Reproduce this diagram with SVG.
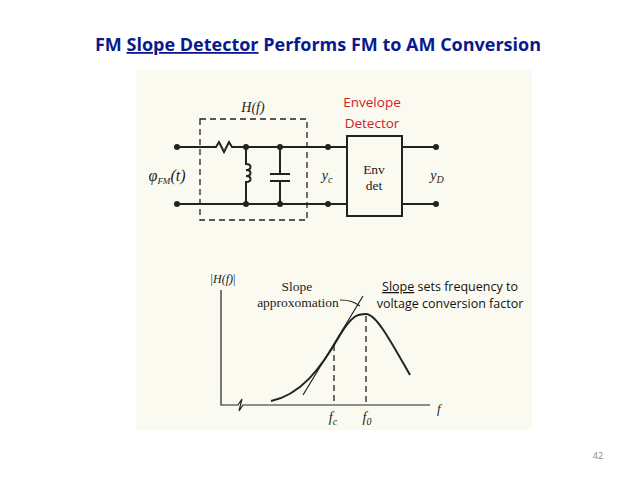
<svg xmlns="http://www.w3.org/2000/svg" width="638" height="478" viewBox="0 0 638 478">
<style>
.w{stroke:#222;stroke-width:2;fill:none}
.t{stroke:#222;stroke-width:1.2;fill:none}
.d{stroke:#222;stroke-width:1.3;fill:none;stroke-dasharray:6,4}
.s{font-family:"Liberation Serif",serif;fill:#222}
.c{font-family:"Open Sans","Liberation Sans",sans-serif}
</style>
<rect width="638" height="478" fill="#fff"/>
<rect x="136" y="70" width="396" height="360" fill="#fbfaf0"/>
<text x="318" y="51" text-anchor="middle" class="c" font-size="18" font-weight="bold" fill="#0a1a8c">FM <tspan text-decoration="underline">Slope Detector</tspan>  Performs FM to AM Conversion</text>
<g id="filter">
<rect x="200" y="119" width="107" height="101" class="d"/>
<text x="253" y="112" class="s" font-size="14" font-style="italic" text-anchor="middle">H(f)</text>
<path class="w" d="M177 147H216l3 -5 5 10 5 -10 3 5H328M177 204H328"/>
<path class="w" d="M246 147v17c6 0 6 6 0 6c6 0 6 6 0 6c6 0 6 6 0 6v22M280 147v27M280 181v23"/>
<path class="w" d="M270 174h20M270 181h20"/>
<g fill="#222"><circle cx="177" cy="147" r="3"/><circle cx="177" cy="204" r="3"/><circle cx="246" cy="147" r="3"/><circle cx="280" cy="147" r="3"/><circle cx="246" cy="204" r="3"/><circle cx="280" cy="204" r="3"/><circle cx="328" cy="147" r="3"/><circle cx="328" cy="204" r="3"/></g>
<text x="167" y="181" class="s" font-size="16" font-style="italic" text-anchor="middle">φ<tspan font-size="9" dy="3">FM</tspan><tspan dy="-3">(t)</tspan></text>
<text x="327" y="180" class="s" font-size="14" font-style="italic" text-anchor="middle">y<tspan font-size="10" dy="3">c</tspan></text>
</g>
<g id="env">
<text x="372" y="107" class="c" font-size="13.5" fill="#d0202a" text-anchor="middle">Envelope</text>
<text x="372" y="128" class="c" font-size="13.5" fill="#d0202a" text-anchor="middle">Detector</text>
<path class="w" d="M328 147H347M328 204H347M402 147H436M402 204H436"/>
<rect x="347" y="136" width="55" height="80" class="w" fill="#fbfaf0"/>
<text x="374" y="174" class="s" font-size="13.5" text-anchor="middle">Env</text>
<text x="374" y="190" class="s" font-size="13.5" text-anchor="middle">det</text>
<circle cx="436" cy="147" r="3" fill="#222"/><circle cx="436" cy="204" r="3" fill="#222"/>
<text x="437" y="180" class="s" font-size="14" font-style="italic" text-anchor="middle">y<tspan font-size="10" dy="3">D</tspan></text>
</g>
<g id="graph">
<path class="t" d="M221 290V405H238l4 -6 -3 12 4 -6H430"/>
<text x="223" y="283" class="s" font-size="12" text-anchor="middle">|<tspan font-style="italic">H(f)</tspan>|</text>
<path class="w" d="M271 401C300 395 320 370 340 335C352 315 358 314 366 314C376 314 390 340 410 375"/>
<path class="t" d="M303 395L363 296"/>
<path class="d" d="M334 345V405M366 316V405"/>
<path class="t" d="M340 300C350 300 354 302 360 306"/>
<text x="297" y="291" class="s" font-size="13.5" text-anchor="middle">Slope</text>
<text x="298" y="307" class="s" font-size="13.5" text-anchor="middle">approxomation</text>
<text x="437" y="413" class="s" font-size="13" font-style="italic">f</text>
<text x="333" y="422" class="s" font-size="14" font-style="italic" text-anchor="middle">f<tspan font-size="10" dy="3">c</tspan></text>
<text x="367" y="422" class="s" font-size="14" font-style="italic" text-anchor="middle">f<tspan font-size="10" dy="3">0</tspan></text>
<text x="450" y="291" class="c" font-size="12.5" fill="#111" text-anchor="middle"><tspan text-decoration="underline">Slope</tspan> sets frequency to</text>
<text x="450" y="308" class="c" font-size="12.5" fill="#111" text-anchor="middle">voltage conversion factor</text>
</g>
<text x="598" y="459" class="c" font-size="9" fill="#888" text-anchor="middle">42</text>
</svg>
